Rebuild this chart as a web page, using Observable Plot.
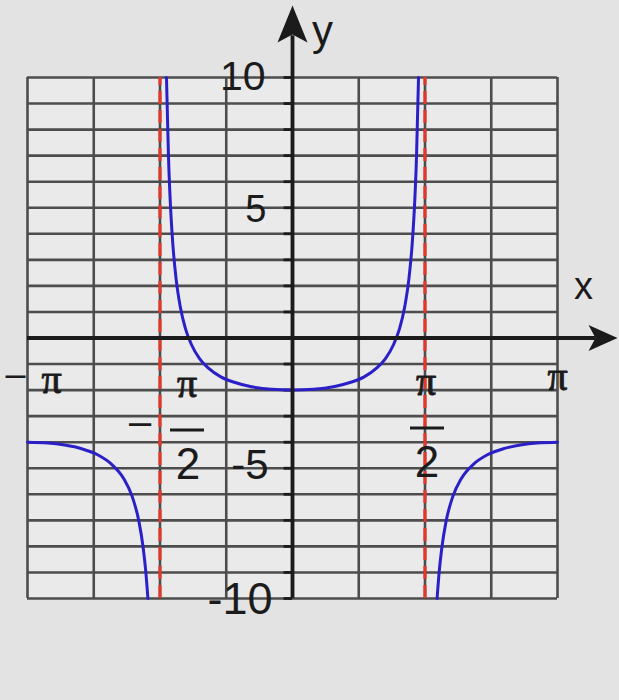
<!DOCTYPE html>
<html><head><meta charset="utf-8">
<script src="https://cdn.jsdelivr.net/npm/d3@7"></script>
<script src="https://cdn.jsdelivr.net/npm/@observablehq/plot@0.6"></script>
<style>
html,body{margin:0;padding:0;background:#e3e3e3;}
#chart svg{display:block}
</style>
</head><body><div id="chart"></div>
<script>
const PI = Math.PI;

// Curve branches (x in radians, y values)
const leftX  = [-3.1416, -2.9, -2.7, -2.5, -2.3, -2.15, -2.0, -1.9, -1.82, -1.77, -1.74, -1.714];
const leftY  = [-4, -4.03, -4.11, -4.25, -4.50, -4.83, -5.40, -6.09, -7.05, -8.06, -8.94, -10];
const midX   = [-1.494, -1.47, -1.45, -1.42, -1.38, -1.33, -1.27, -1.2, -1.1, -1.0, -0.85, -0.7, -0.5, -0.25, 0,
                 0.25, 0.5, 0.7, 0.85, 1.0, 1.1, 1.2, 1.27, 1.33, 1.38, 1.42, 1.45, 1.47, 1.494];
const midY   = [10, 6.94, 5.30, 3.66, 2.27, 1.19, 0.37, -0.24, -0.80, -1.15, -1.49, -1.69, -1.86, -1.97, -2,
                 -1.97, -1.86, -1.69, -1.49, -1.15, -0.80, -0.24, 0.37, 1.19, 2.27, 3.66, 5.30, 6.94, 10];
const rightX = [1.714, 1.74, 1.77, 1.82, 1.9, 2.0, 2.15, 2.3, 2.5, 2.7, 2.9, 3.1416];
const rightY = [-10, -8.94, -8.06, -7.05, -6.09, -5.40, -4.83, -4.50, -4.25, -4.11, -4.03, -4];

// Asymptotes
const asymptotes = [-PI / 2, PI / 2];

// Tick values / labels
const yTickValues = [10, 5, -5, -10];
const yTickLabels = ["10", "5", "-5", "-10"];
const xGrid = [-PI, -3 * PI / 4, -PI / 2, -PI / 4, 0, PI / 4, PI / 2, 3 * PI / 4, PI];
const yGrid = d3.range(-10, 11, 1);

const branches = [
  {name: "left", xs: leftX, ys: leftY},
  {name: "mid", xs: midX, ys: midY},
  {name: "right", xs: rightX, ys: rightY}
];
const curveRows = branches.flatMap(b => b.xs.map((x, i) => ({branch: b.name, x, y: b.ys[i]})));

const upArrow = {draw(ctx) { ctx.moveTo(0, -18); ctx.lineTo(15, 19); ctx.lineTo(0, 11); ctx.lineTo(-15, 19); ctx.closePath(); }};
const rightArrow = {draw(ctx) { ctx.moveTo(16, 0); ctx.lineTo(-13, 13); ctx.lineTo(-6, 0); ctx.lineTo(-13, -13); ctx.closePath(); }};
const fracBar = {draw(ctx) { ctx.rect(-17, -1.5, 34, 3); }};

const gridColor = "#4d4d4d";
const ink = "#1b1b1b";
const sans = "Liberation Sans, Arial, sans-serif";
const serif = "Liberation Serif, Times New Roman, serif";
const lbl = (txt, x, y, dx, dy, fontSize, fontFamily = sans, extra = {}) =>
  Plot.text([txt], {x, y, dx, dy, text: d => d, fontSize, fontFamily, fill: ink, ...extra});
const piStyle = {stroke: ink, strokeWidth: 0.9};

const plot = Plot.plot({
  width: 619, height: 700,
  marginLeft: 27, marginRight: 62, marginTop: 77, marginBottom: 102,
  x: {domain: [-PI, PI], axis: null},
  y: {domain: [-10, 10], axis: null},
  style: {background: "transparent", overflow: "visible"},
  marks: [
    Plot.frame({fill: "#eaeaea", stroke: null}),
    Plot.ruleX(xGrid, {y1: -10, y2: 10, stroke: gridColor, strokeWidth: 2.6}),
    Plot.ruleY(yGrid, {x1: -PI, x2: PI, stroke: gridColor, strokeWidth: 2.6}),
    Plot.ruleY(yGrid, {x1: -0.1, x2: 0, stroke: ink, strokeWidth: 2.8}),
    Plot.ruleX(asymptotes, {y1: -10, y2: 10, stroke: "#e3372c", strokeWidth: 3.2, strokeDasharray: "13,6"}),
    Plot.line(curveRows, {x: "x", y: "y", z: "branch", stroke: "#2b20c8", strokeWidth: 3, curve: "monotone-x"}),
    Plot.ruleX([0], {y1: -10, y2: 11.6, stroke: ink, strokeWidth: 3.8}),
    Plot.ruleY([0], {x1: -PI, x2: 3.6, stroke: ink, strokeWidth: 3.8}),
    Plot.dot([0], {x: 0, y: 10, dy: -54, symbol: upArrow, fill: ink, stroke: null}),
    Plot.dot([0], {x: PI, y: 0, dx: 44, symbol: rightArrow, fill: ink, stroke: null}),
    // y tick labels
    Plot.text(yTickValues.slice(0, 1), {x: 0, y: d => d, text: () => yTickLabels[0], textAnchor: "end", dx: -27, dy: -1, fontSize: 41, fontFamily: sans, fill: ink}),
    Plot.text(yTickValues.slice(1, 2), {x: 0, y: d => d, text: () => yTickLabels[1], textAnchor: "end", dx: -26, dy: 2, fontSize: 38, fontFamily: sans, fill: ink}),
    Plot.text(yTickValues.slice(2, 3), {x: 0, y: d => d, text: () => yTickLabels[2], textAnchor: "end", dx: -24, dy: -3, fontSize: 42, fontFamily: sans, fill: ink}),
    Plot.text(yTickValues.slice(3, 4), {x: 0, y: d => d, text: () => yTickLabels[3], textAnchor: "end", dx: -20, dy: 1, fontSize: 45, fontFamily: sans, fill: ink}),
    // axis names
    lbl("y", 0, 10, 30, -46, 42),
    lbl("x", PI, 0, 26, -51, 38),
    // -π
    lbl("–", -PI, 0, -12, 36, 36),
    lbl("π", -PI, 0, 24, 42, 40, serif, piStyle),
    // -π/2
    lbl("–", -PI / 2, 0, -20, 84, 40),
    lbl("π", -PI / 2, 0, 27, 46, 40, serif, piStyle),
    Plot.dot([0], {x: -PI / 2, y: 0, dx: 27, dy: 92, symbol: fracBar, fill: ink, stroke: null}),
    lbl("2", -PI / 2, 0, 28, 127, 44),
    // π/2
    lbl("π", PI / 2, 0, 1, 44, 40, serif, piStyle),
    Plot.dot([0], {x: PI / 2, y: 0, dx: 2, dy: 90, symbol: fracBar, fill: ink, stroke: null}),
    lbl("2", PI / 2, 0, 2, 125, 44),
    // π
    lbl("π", PI, 0, 0, 39, 40, serif, piStyle)
  ]
});
document.getElementById("chart").appendChild(plot);
</script>
</body></html>
